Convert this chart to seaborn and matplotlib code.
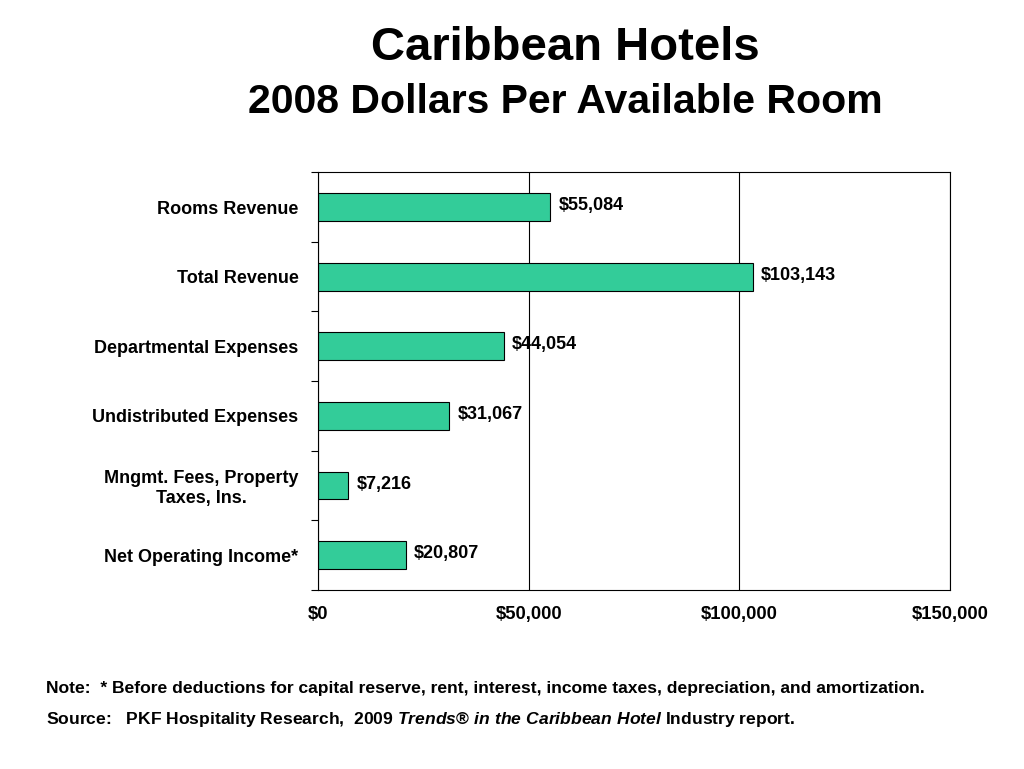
import matplotlib
matplotlib.use("Agg")
import matplotlib.pyplot as plt
import seaborn as sns
import pandas as pd
import numpy as np

categories = ["Rooms Revenue", "Total Revenue", "Departmental Expenses",
              "Undistributed Expenses", "Mngmt. Fees, Property\nTaxes, Ins.",
              "Net Operating Income*"]
values = [55084, 103143, 44054, 31067, 7216, 20807]
x_ticks = [0, 50000, 100000, 150000]
x_ticklabels = ["$0", "$50,000", "$100,000", "$150,000"]

sns.set_style("white")
plt.rcParams['font.family'] = ['Liberation Sans', 'DejaVu Sans']
plt.rcParams['font.weight'] = 'bold'
plt.rcParams['text.color'] = 'black'
plt.rcParams['xtick.color'] = 'black'
plt.rcParams['ytick.color'] = 'black'
plt.rcParams['mathtext.fontset'] = 'custom'
plt.rcParams['mathtext.rm'] = 'Liberation Sans:bold'
plt.rcParams['mathtext.it'] = 'Liberation Sans:bold:italic'
plt.rcParams['mathtext.bf'] = 'Liberation Sans:bold'

df = pd.DataFrame({"cat": categories, "val": values})

fig = plt.figure(figsize=(10.24, 7.69), dpi=100)
ax = fig.add_axes([0.3105, 0.233, 0.6175, 0.543])
sns.barplot(data=df, x="val", y="cat", color="#33CC99", saturation=1,
            edgecolor="black", linewidth=0.8, width=0.4, ax=ax)

ax.set_xlim(0, 150000)
ax.set_ylim(len(categories) - 0.5, -0.5)
ax.set_xticks(x_ticks)
ax.set_xticklabels(x_ticklabels, fontsize=13.3, fontweight='bold')
ax.tick_params(axis='x', length=0, pad=12)
ax.tick_params(axis='y', which='major', length=0, pad=14, labelsize=13)
for lab in ax.get_yticklabels():
    lab.set_fontweight('bold')
    lab.set_horizontalalignment('right')
    lab.set_multialignment('center')
ax.set_yticks(np.arange(-0.5, len(categories), 1), minor=True)
ax.tick_params(axis='y', which='minor', left=True, length=5, width=0.8,
               color='black', direction='out')
ax.set_xlabel("")
ax.set_ylabel("")
ax.xaxis.grid(True, color='black', linewidth=0.8)
ax.set_axisbelow(True)
for s in ax.spines.values():
    s.set_color('black')
    s.set_linewidth(0.8)

for i, v in enumerate(values):
    ax.text(v + 2000, i - 0.02, f"${v:,}", fontsize=13, fontweight='bold',
            va='center', ha='left')

fig.text(0.552, 0.938, "Caribbean Hotels", ha='center', va='center',
         fontsize=34, fontweight='bold')
fig.text(0.552, 0.868, "2008 Dollars Per Available Room", ha='center',
         va='center', fontsize=29.5, fontweight='bold')
fig.text(0.045, 0.105, "Note:  * Before deductions for capital reserve, rent, interest, income taxes, depreciation, and amortization.",
         fontsize=12.6, fontweight='bold', va='center')
fig.text(0.045, 0.065, "Source:   PKF Hospitality Research,  2009 $\\it{Trends®\\ in\\ the\\ Caribbean\\ Hotel}$ Industry report.",
         fontsize=12.6, fontweight='bold', va='center')

fig.savefig("out.png", dpi=100)
